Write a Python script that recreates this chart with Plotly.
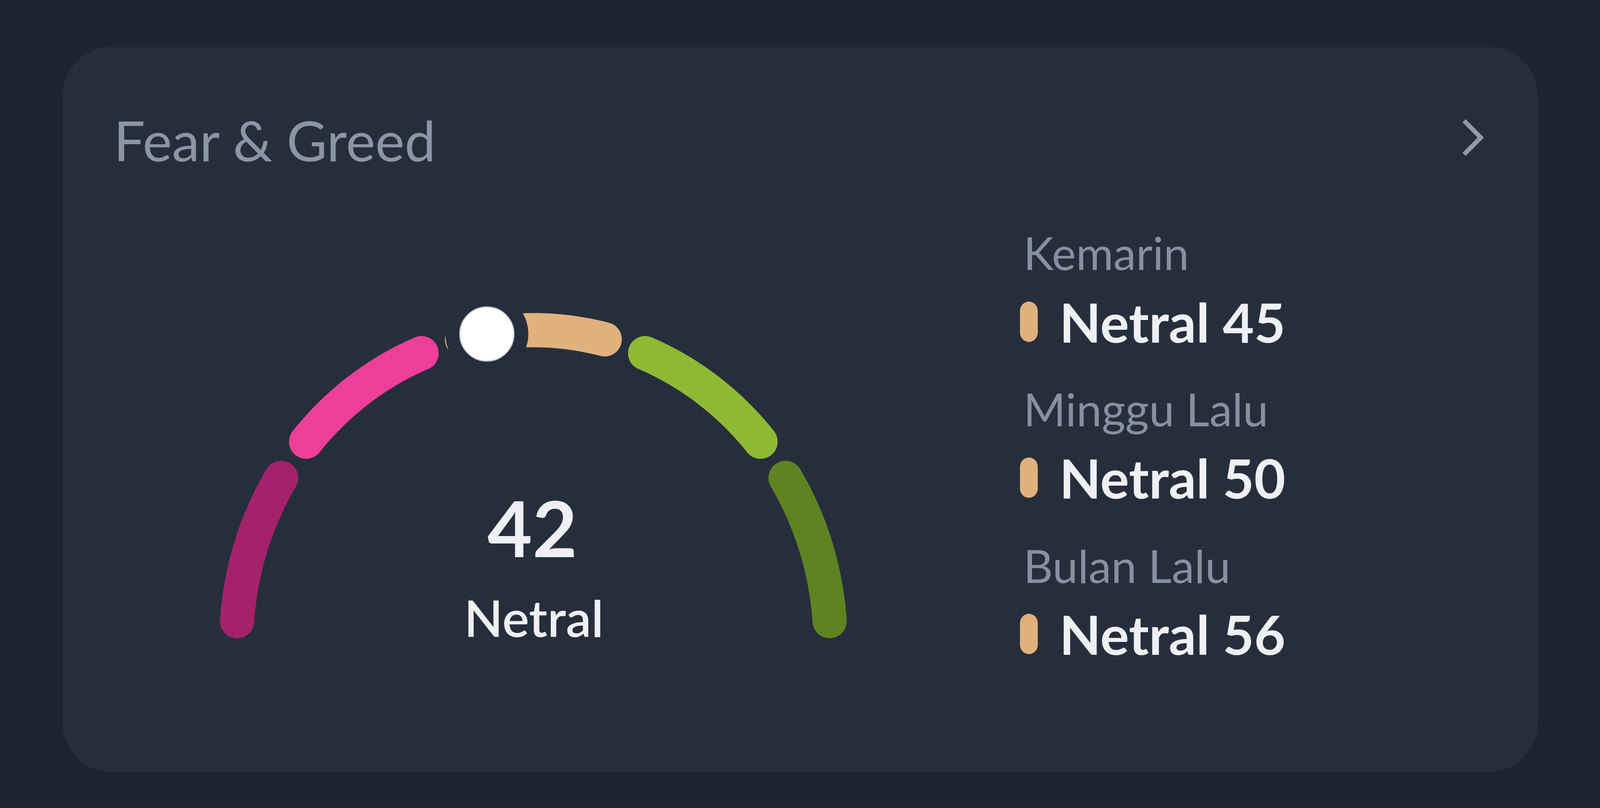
import numpy as np
import plotly.graph_objects as go

# ---------------- data ----------------
title = "Fear & Greed"
band_edges = [0, 20, 40, 60, 80, 100]
band_colors = ["#a4226a", "#ee3f98", "#e0b27e", "#8fb935", "#5f8223"]
score = 42
score_label = "Netral"
pointer_at = [45]          # where the white dot is drawn in the picture
periods = ["Kemarin", "Minggu Lalu", "Bulan Lalu"]
period_labels = ["Netral", "Netral", "Netral"]
period_values = [45, 50, 56]
period_colors = ["#dfb27d", "#dfb27d", "#dfb27d"]

# ---------------- style ----------------
W, H = 4320, 2068          # reference pixel grid used as data coordinates
S = 4096 / 4320            # text scale (viewport is 4096 css px wide)
S2 = 0.974                 # scale for round marks / stroke widths
BG = "#1f2530"
CARD = "#272e3b"
TITLE_C = "#8a96a3"
LABEL_C = "#8591a0"
TEXT_C = "#eef0f4"
FONT = "Lato"
CX, CY, R = 1440, 1647, 802
THICK = 90
INSET_DEG = 4.1


def to_xy(v, r=R):
    a = np.radians(180 - 1.8 * np.asarray(v, dtype=float))
    return CX + r * np.cos(a), CY - r * np.sin(a)


fig = go.Figure()

inset_v = INSET_DEG / 1.8
for lo, hi, col in zip(band_edges[:-1], band_edges[1:], band_colors):
    vv = np.linspace(lo + inset_v, hi - inset_v, 90)
    x, y = to_xy(vv)
    fig.add_trace(go.Scatter(x=x, y=y, mode="lines",
                             line=dict(color=col, width=THICK * S2, simplify=False),
                             hoverinfo="skip", showlegend=False))
    ex, ey = to_xy([lo + inset_v, hi - inset_v])
    fig.add_trace(go.Scatter(x=ex, y=ey, mode="markers",
                             marker=dict(color=col, size=THICK * S2, line=dict(width=0)),
                             hoverinfo="skip", showlegend=False))

px, py = to_xy(pointer_at)
fig.add_trace(go.Scatter(x=px, y=py, mode="markers",
                         marker=dict(color=CARD, size=218 * S2, line=dict(width=0)),
                         hoverinfo="skip", showlegend=False))
fig.add_trace(go.Scatter(x=px, y=py, mode="markers",
                         marker=dict(color="#ffffff", size=142 * S2,
                                     line=dict(width=3, color="#c9ced6")),
                         hoverinfo="skip", showlegend=False))


def rrect(x0, y0, x1, y1, r):
    k = 0.5523 * r
    return (f"M{x0+r},{y0} L{x1-r},{y0} C{x1-r+k},{y0} {x1},{y0+r-k} {x1},{y0+r} "
            f"L{x1},{y1-r} C{x1},{y1-r+k} {x1-r+k},{y1} {x1-r},{y1} "
            f"L{x0+r},{y1} C{x0+r-k},{y1} {x0},{y1-r+k} {x0},{y1-r} "
            f"L{x0},{y0+r} C{x0},{y0+r-k} {x0+r-k},{y0} {x0+r},{y0} Z")


shapes = [dict(type="path", path=rrect(169, 121, 4152, 1975, 128),
               fillcolor=CARD, line=dict(width=0), layer="below")]
shapes.append(dict(type="path", path="M3953,309 L3998,352 L3953,395",
                   line=dict(color="#8f9aa6", width=12 * S2)))

annotations = [
    dict(x=305, y=358, text=title, xanchor="left", yanchor="middle",
         font=dict(family=FONT, size=150 * S, color=TITLE_C)),
    dict(x=1438, y=1349, text=str(score), xanchor="center", yanchor="middle",
         font=dict(family=FONT, size=209 * S, color=TEXT_C, weight="bold")),
    dict(x=1441, y=1580, text=score_label, xanchor="center", yanchor="middle",
         font=dict(family=FONT, size=137 * S, color=TEXT_C, weight=600)),
]

label_y = [646, 1046, 1447]
value_y = [823, 1222, 1622]
for name, lab, val, col, ly, vy in zip(periods, period_labels, period_values,
                                       period_colors, label_y, value_y):
    annotations.append(dict(x=2761, y=ly, text=name, xanchor="left", yanchor="middle",
                            font=dict(family=FONT, size=123 * S, color=LABEL_C)))
    annotations.append(dict(x=2858, y=vy, text=f"{lab} {val}", xanchor="left",
                            yanchor="middle",
                            font=dict(family=FONT, size=146 * S, color=TEXT_C, weight="bold")))
    shapes.append(dict(type="path", path=rrect(2754, vy - 51, 2802, vy + 52, 24),
                       fillcolor=col, line=dict(width=0)))

for a in annotations:
    a.update(xref="x", yref="y", showarrow=False)

fig.update_layout(
    autosize=True,
    margin=dict(l=0, r=0, t=0, b=0, pad=0),
    paper_bgcolor=BG, plot_bgcolor="rgba(0,0,0,0)",
    xaxis=dict(range=[0, W], visible=False, fixedrange=True),
    yaxis=dict(range=[H, 0], visible=False, fixedrange=True),
    shapes=shapes, annotations=annotations, showlegend=False,
)

post = """
document.documentElement.style.margin='0';
document.body.style.margin='0';
document.body.style.overflow='hidden';
Plotly.Plots.resize(document.getElementById('{plot_id}'));
"""

fig.write_html("out.html", config={"displayModeBar": False, "responsive": True},
               default_width="100vw", default_height="100vh", post_script=post)
